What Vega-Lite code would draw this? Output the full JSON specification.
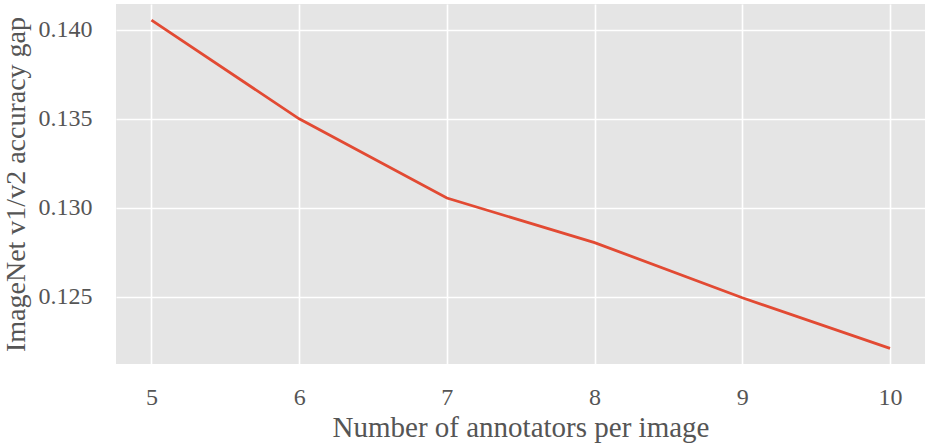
{
  "$schema": "https://vega.github.io/schema/vega-lite/v6.json",
  "width": 809,
  "height": 360,
  "autosize": "none",
  "padding": {"left": 116, "top": 4, "right": 5, "bottom": 79},
  "background": "white",
  "data": {
    "values": [
      {"annotators": 5, "gap": 0.14054},
      {"annotators": 6, "gap": 0.13500},
      {"annotators": 7, "gap": 0.13055},
      {"annotators": 8, "gap": 0.12805},
      {"annotators": 9, "gap": 0.12495},
      {"annotators": 10, "gap": 0.12211}
    ]
  },
  "mark": {"type": "line", "color": "#E24A33", "strokeWidth": 2.8, "clip": true},
  "encoding": {
    "x": {
      "field": "annotators",
      "type": "quantitative",
      "title": "Number of annotators per image",
      "scale": {"domain": [4.76, 10.237], "nice": false, "zero": false},
      "axis": {"values": [5, 6, 7, 8, 9, 10], "format": "d", "labelPadding": 21, "titlePadding": 4, "titleFontSize": 29}
    },
    "y": {
      "field": "gap",
      "type": "quantitative",
      "title": "ImageNet v1/v2 accuracy gap",
      "scale": {"domain": [0.12123, 0.14145], "nice": false, "zero": false},
      "axis": {"values": [0.125, 0.13, 0.135, 0.14], "format": ".3f", "labelPadding": 24, "titlePadding": 8, "titleFontSize": 28}
    }
  },
  "config": {
    "view": {"fill": "#E5E5E5", "stroke": null},
    "axis": {
      "domain": false,
      "ticks": false,
      "grid": true,
      "gridColor": "white",
      "gridWidth": 1.6,
      "labelFont": "Liberation Serif",
      "labelFontSize": 24,
      "labelColor": "#555555",
      "titleFont": "Liberation Serif",
      "titleFontWeight": "normal",
      "titleColor": "#555555"
    }
  }
}
